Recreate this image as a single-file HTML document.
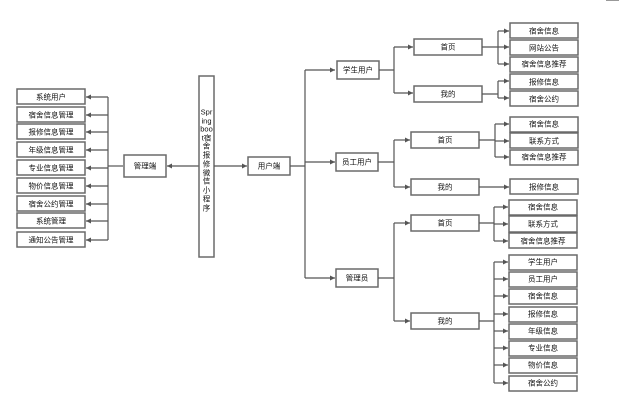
<!DOCTYPE html>
<html><head><meta charset="utf-8"><style>
html,body{margin:0;padding:0;background:#fff;}
svg{display:block;}
text{font-family:"Liberation Sans","Noto Sans CJK SC",sans-serif;font-size:7.5px;fill:#111;text-anchor:middle;dominant-baseline:central;}
.b{fill:#fff;stroke:#6a6a6a;stroke-width:1.5;}
.l{stroke:#555;stroke-width:1.2;fill:none;}
</style></head><body>
<svg width="619" height="409" viewBox="0 0 619 409" xmlns="http://www.w3.org/2000/svg">
<defs><marker id="a" markerWidth="6" markerHeight="6" refX="5" refY="3" orient="auto" markerUnits="userSpaceOnUse"><path d="M0,0.5 L5,3 L0,5.5z" fill="#555"/></marker></defs>
<rect x="606" y="0" width="13" height="1" fill="#999"/>

<!-- left side -->
<path class="l" d="M108,97V240"/>
<path class="l" d="M123,166H108"/>
<g marker-end="url(#a)">
<path class="l" d="M108,97H86"/><path class="l" d="M108,115H86"/><path class="l" d="M108,132H86"/><path class="l" d="M108,150H86"/><path class="l" d="M108,168H86"/><path class="l" d="M108,186H86"/><path class="l" d="M108,204H86"/><path class="l" d="M108,221H86"/><path class="l" d="M108,240H86"/>
</g>
<rect class="b" x="17" y="89" width="68" height="15"/><text x="51" y="97">系统用户</text>
<rect class="b" x="17" y="107" width="68" height="15"/><text x="51" y="115">宿舍信息管理</text>
<rect class="b" x="17" y="124" width="68" height="15"/><text x="51" y="132">报修信息管理</text>
<rect class="b" x="17" y="142" width="68" height="15"/><text x="51" y="150">年级信息管理</text>
<rect class="b" x="17" y="160" width="68" height="15"/><text x="51" y="168">专业信息管理</text>
<rect class="b" x="17" y="178" width="68" height="15"/><text x="51" y="186">物价信息管理</text>
<rect class="b" x="17" y="196" width="68" height="15"/><text x="51" y="204">宿舍公约管理</text>
<rect class="b" x="17" y="213" width="68" height="15"/><text x="51" y="221">系统管理</text>
<rect class="b" x="17" y="232" width="68" height="15"/><text x="51" y="240">通知公告管理</text>

<rect class="b" x="124" y="155" width="42" height="22"/><text x="145" y="166">管理端</text>
<path class="l" d="M199,166H167" marker-end="url(#a)"/>
<rect class="b" x="199" y="76" width="15" height="181"/>
<g style="font-size:7px">
<text x="206.5" y="112">Spr</text><text x="206.5" y="121">ing</text><text x="206.5" y="129">boo</text><text x="206.5" y="138">t宿</text><text x="206.5" y="146">舍</text><text x="206.5" y="155">报</text><text x="206.5" y="164">修</text><text x="206.5" y="173">微</text><text x="206.5" y="181">信</text><text x="206.5" y="190">小</text><text x="206.5" y="199">程</text><text x="206.5" y="208">序</text>
</g>
<path class="l" d="M214,166H247" marker-end="url(#a)"/>
<rect class="b" x="248" y="157" width="42" height="18"/><text x="269" y="166">用户端</text>

<!-- main bus -->
<path class="l" d="M290,166H305M305,70V278"/>
<path class="l" d="M305,70H335" marker-end="url(#a)"/>
<path class="l" d="M305,162H335" marker-end="url(#a)"/>
<path class="l" d="M305,278H335" marker-end="url(#a)"/>
<rect class="b" x="337" y="61" width="42" height="18"/><text x="358" y="70">学生用户</text>
<rect class="b" x="336" y="153" width="42" height="18"/><text x="357" y="162">员工用户</text>
<rect class="b" x="336" y="269" width="42" height="18"/><text x="357" y="278">管理员</text>

<!-- student -->
<path class="l" d="M379,70H394M394,47V93"/>
<path class="l" d="M394,47H413" marker-end="url(#a)"/><path class="l" d="M394,93H413" marker-end="url(#a)"/>
<rect class="b" x="414" y="39" width="68" height="16"/><text x="448" y="47">首页</text>
<rect class="b" x="414" y="86" width="68" height="16"/><text x="448" y="94">我的</text>
<path class="l" d="M482,47H498M498,31V64M482,94H498M498,81V98"/>
<g marker-end="url(#a)"><path class="l" d="M498,31H509"/><path class="l" d="M498,47H509"/><path class="l" d="M498,64H509"/><path class="l" d="M498,81H509"/><path class="l" d="M498,98H509"/></g>
<rect class="b" x="510" y="23" width="68" height="15"/><text x="544" y="31">宿舍信息</text>
<rect class="b" x="510" y="40" width="68" height="15"/><text x="544" y="48">网站公告</text>
<rect class="b" x="510" y="57" width="68" height="15"/><text x="544" y="64">宿舍信息推荐</text>
<rect class="b" x="510" y="74" width="68" height="15"/><text x="544" y="82">报修信息</text>
<rect class="b" x="510" y="91" width="68" height="15"/><text x="544" y="99">宿舍公约</text>

<!-- staff -->
<path class="l" d="M378,162H394M394,140V187"/>
<path class="l" d="M394,140H410" marker-end="url(#a)"/><path class="l" d="M394,187H410" marker-end="url(#a)"/>
<rect class="b" x="411" y="132" width="68" height="16"/><text x="445" y="140">首页</text>
<rect class="b" x="411" y="179" width="68" height="16"/><text x="445" y="187">我的</text>
<path class="l" d="M479,140H495M495,124V157"/>
<g marker-end="url(#a)"><path class="l" d="M495,124H509"/><path class="l" d="M495,141H509"/><path class="l" d="M495,157H509"/><path class="l" d="M479,187H509"/></g>
<rect class="b" x="510" y="117" width="68" height="15"/><text x="544" y="124">宿舍信息</text>
<rect class="b" x="510" y="133" width="68" height="15"/><text x="544" y="141">联系方式</text>
<rect class="b" x="510" y="150" width="68" height="15"/><text x="544" y="157">宿舍信息推荐</text>
<rect class="b" x="510" y="179" width="68" height="15"/><text x="544" y="187">报修信息</text>

<!-- admin -->
<path class="l" d="M378,278H394M394,223V321"/>
<path class="l" d="M394,223H410" marker-end="url(#a)"/><path class="l" d="M394,321H410" marker-end="url(#a)"/>
<rect class="b" x="411" y="215" width="68" height="16"/><text x="445" y="223">首页</text>
<rect class="b" x="411" y="313" width="68" height="16"/><text x="445" y="321">我的</text>
<path class="l" d="M479,223H494M494,207V241M479,321H494M494,262V383"/>
<g marker-end="url(#a)"><path class="l" d="M494,207H508"/><path class="l" d="M494,224H508"/><path class="l" d="M494,241H508"/>
<path class="l" d="M494,262H508"/><path class="l" d="M494,279H508"/><path class="l" d="M494,296H508"/><path class="l" d="M494,314H508"/><path class="l" d="M494,331H508"/><path class="l" d="M494,348H508"/><path class="l" d="M494,365H508"/><path class="l" d="M494,383H508"/></g>
<rect class="b" x="509" y="200" width="68" height="15"/><text x="543" y="207">宿舍信息</text>
<rect class="b" x="509" y="216" width="68" height="16"/><text x="543" y="224">联系方式</text>
<rect class="b" x="509" y="233" width="68" height="15"/><text x="543" y="241">宿舍信息推荐</text>
<rect class="b" x="509" y="255" width="68" height="15"/><text x="543" y="262">学生用户</text>
<rect class="b" x="509" y="272" width="68" height="15"/><text x="543" y="279">员工用户</text>
<rect class="b" x="509" y="289" width="68" height="15"/><text x="543" y="296">宿舍信息</text>
<rect class="b" x="509" y="307" width="68" height="15"/><text x="543" y="314">报修信息</text>
<rect class="b" x="509" y="324" width="68" height="15"/><text x="543" y="331">年级信息</text>
<rect class="b" x="509" y="341" width="68" height="15"/><text x="543" y="348">专业信息</text>
<rect class="b" x="509" y="358" width="68" height="15"/><text x="543" y="365">物价信息</text>
<rect class="b" x="509" y="376" width="68" height="15"/><text x="543" y="383">宿舍公约</text>
</svg>
</body></html>
